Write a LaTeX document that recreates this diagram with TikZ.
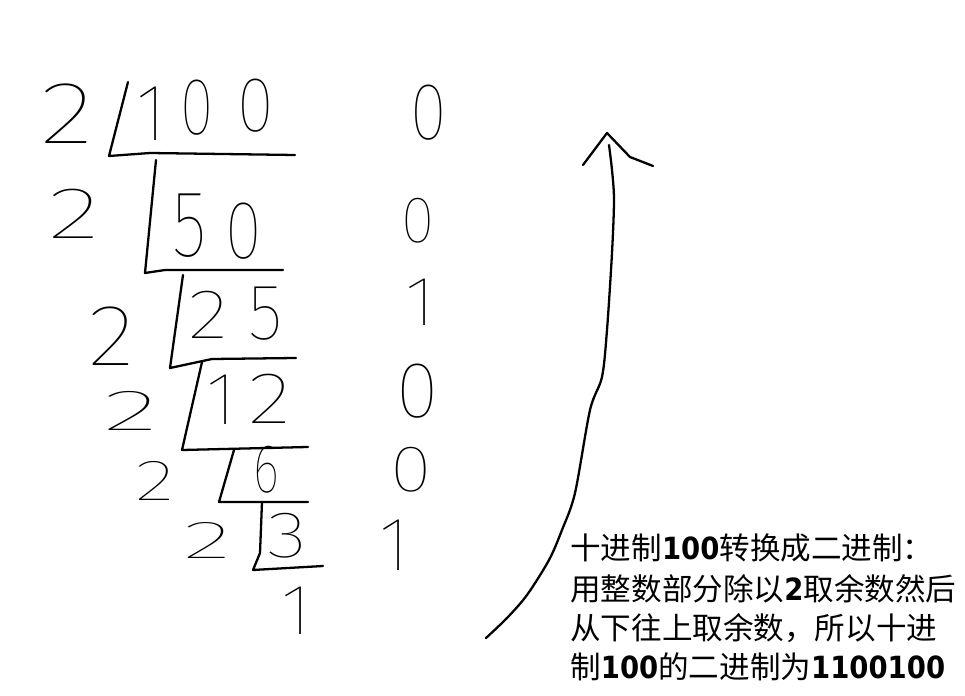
\documentclass[tikz,border=0pt]{standalone}
\usepackage{fontspec}
\usepackage{graphicx}
\newfontfamily\cjkfont{Noto Sans CJK SC}
\newfontfamily\numfont{DejaVu Sans Condensed}
\IfFontExistsTF{Fira Sans Thin}{\newfontfamily\handfont{Fira Sans Thin}}{%
  \IfFontExistsTF{Fira Sans ExtraLight}{\newfontfamily\handfont{Fira Sans ExtraLight}}{%
    \IfFontExistsTF{Fira Sans Light}{\newfontfamily\handfont{Fira Sans Light}}{%
      \newfontfamily\handfont{Fira Sans}}}}
\newcommand\bnum[1]{{\numfont\bfseries #1}}
\tikzset{>=latex}
\tikzset{
  pen/.style={line width=1.3pt, line cap=round, line join=round},
  digit/.style={inner sep=0pt, font=\handfont\fontsize{43.5}{43.5}\selectfont},
  note/.style={inner sep=0pt, anchor=base west, font=\cjkfont\fontsize{17.4}{21}\selectfont}
}

\begin{document}
\begin{tikzpicture}[x=0.02cm,y=-0.02cm]
  \useasboundingbox (0,0) rectangle (965,696);
  % divisors
  \foreach \x/\y/\sx/\sy [count=\i] in {67/114/1.5/1.16, 74/214/1.45/0.96, 112/336/1.3/1.14,
      131/411/1.55/0.76, 155/481/1.1/0.76, 207/540/1.35/0.7}
    \node[digit] (dv\i) at (\x,\y) {\scalebox{\sx}[\sy]{2}};
  % dividends
  \foreach \x/\y/\sx/\sy/\d [count=\i] in {152/114/1/1.06/1, 197/108/0.8/1.06/0, 256/106/0.88/1.02/0,
      190/226/0.95/1.24/5, 244/231/0.88/1.08/0, 208/315/1.12/0.92/2, 266/314/0.95/1.04/5,
      222/400/1/0.98/1, 270/399/1.2/0.96/2, 266/470/0.66/0.9/6, 287/536/1.1/0.86/3,
      297/611/1/0.94/1}
    \node[digit] (dd\i) at (\x,\y) {\scalebox{\sx}[\sy]{\d}};
  % remainders
  \foreach \x/\y/\sx/\sy/\d [count=\i] in {429/113/0.88/1.06/0, 418/221/0.8/0.86/0, 421/302/1/0.92/1,
      418/391/1.02/1.04/0, 411/470/1/0.86/0, 395/545/1/1/1}
    \node[digit] (rm\i) at (\x,\y) {\scalebox{\sx}[\sy]{\d}};
  % division brackets
  \draw[pen] (128,82) -- (109,156) -- (150,153) -- (295,155);
  \draw[pen] (156,160) -- (145,273) -- (165,270) -- (283,270);
  \draw[pen] (183,275) -- (170,368) -- (212,359) -- (296,358);
  \draw[pen] (202,362) -- (182,450) -- (308,447);
  \draw[pen] (234,450) -- (219,502) -- (308,502);
  \draw[pen] (262,502) -- (260,553) -- (253,570) -- (323,566);
  % arrow
  \coordinate (tip) at (607,133);
  \draw[pen] plot[smooth] coordinates {(486,638) (507,618) (527,595) (549,560) (562,530)
      (575,493) (590,410) (602,377) (607,330) (612,253) (614,200) (612,170) (609,145)};
  \draw[pen] (583,165) -- (tip) -- (630,157) -- (653,166);
  % note
  \node[note] (line1) at (570,560) {十进制\bnum{100}转换成二进制：};
  \node[note] (line2) at (570,600) {用整数部分除以\bnum{2}取余数然后};
  \node[note] (line3) at (570,639) {从下往上取余数，所以十进};
  \node[note] (line4) at (570,678) {制\bnum{100}的二进制为\bnum{1100100}};
\end{tikzpicture}
\end{document}
